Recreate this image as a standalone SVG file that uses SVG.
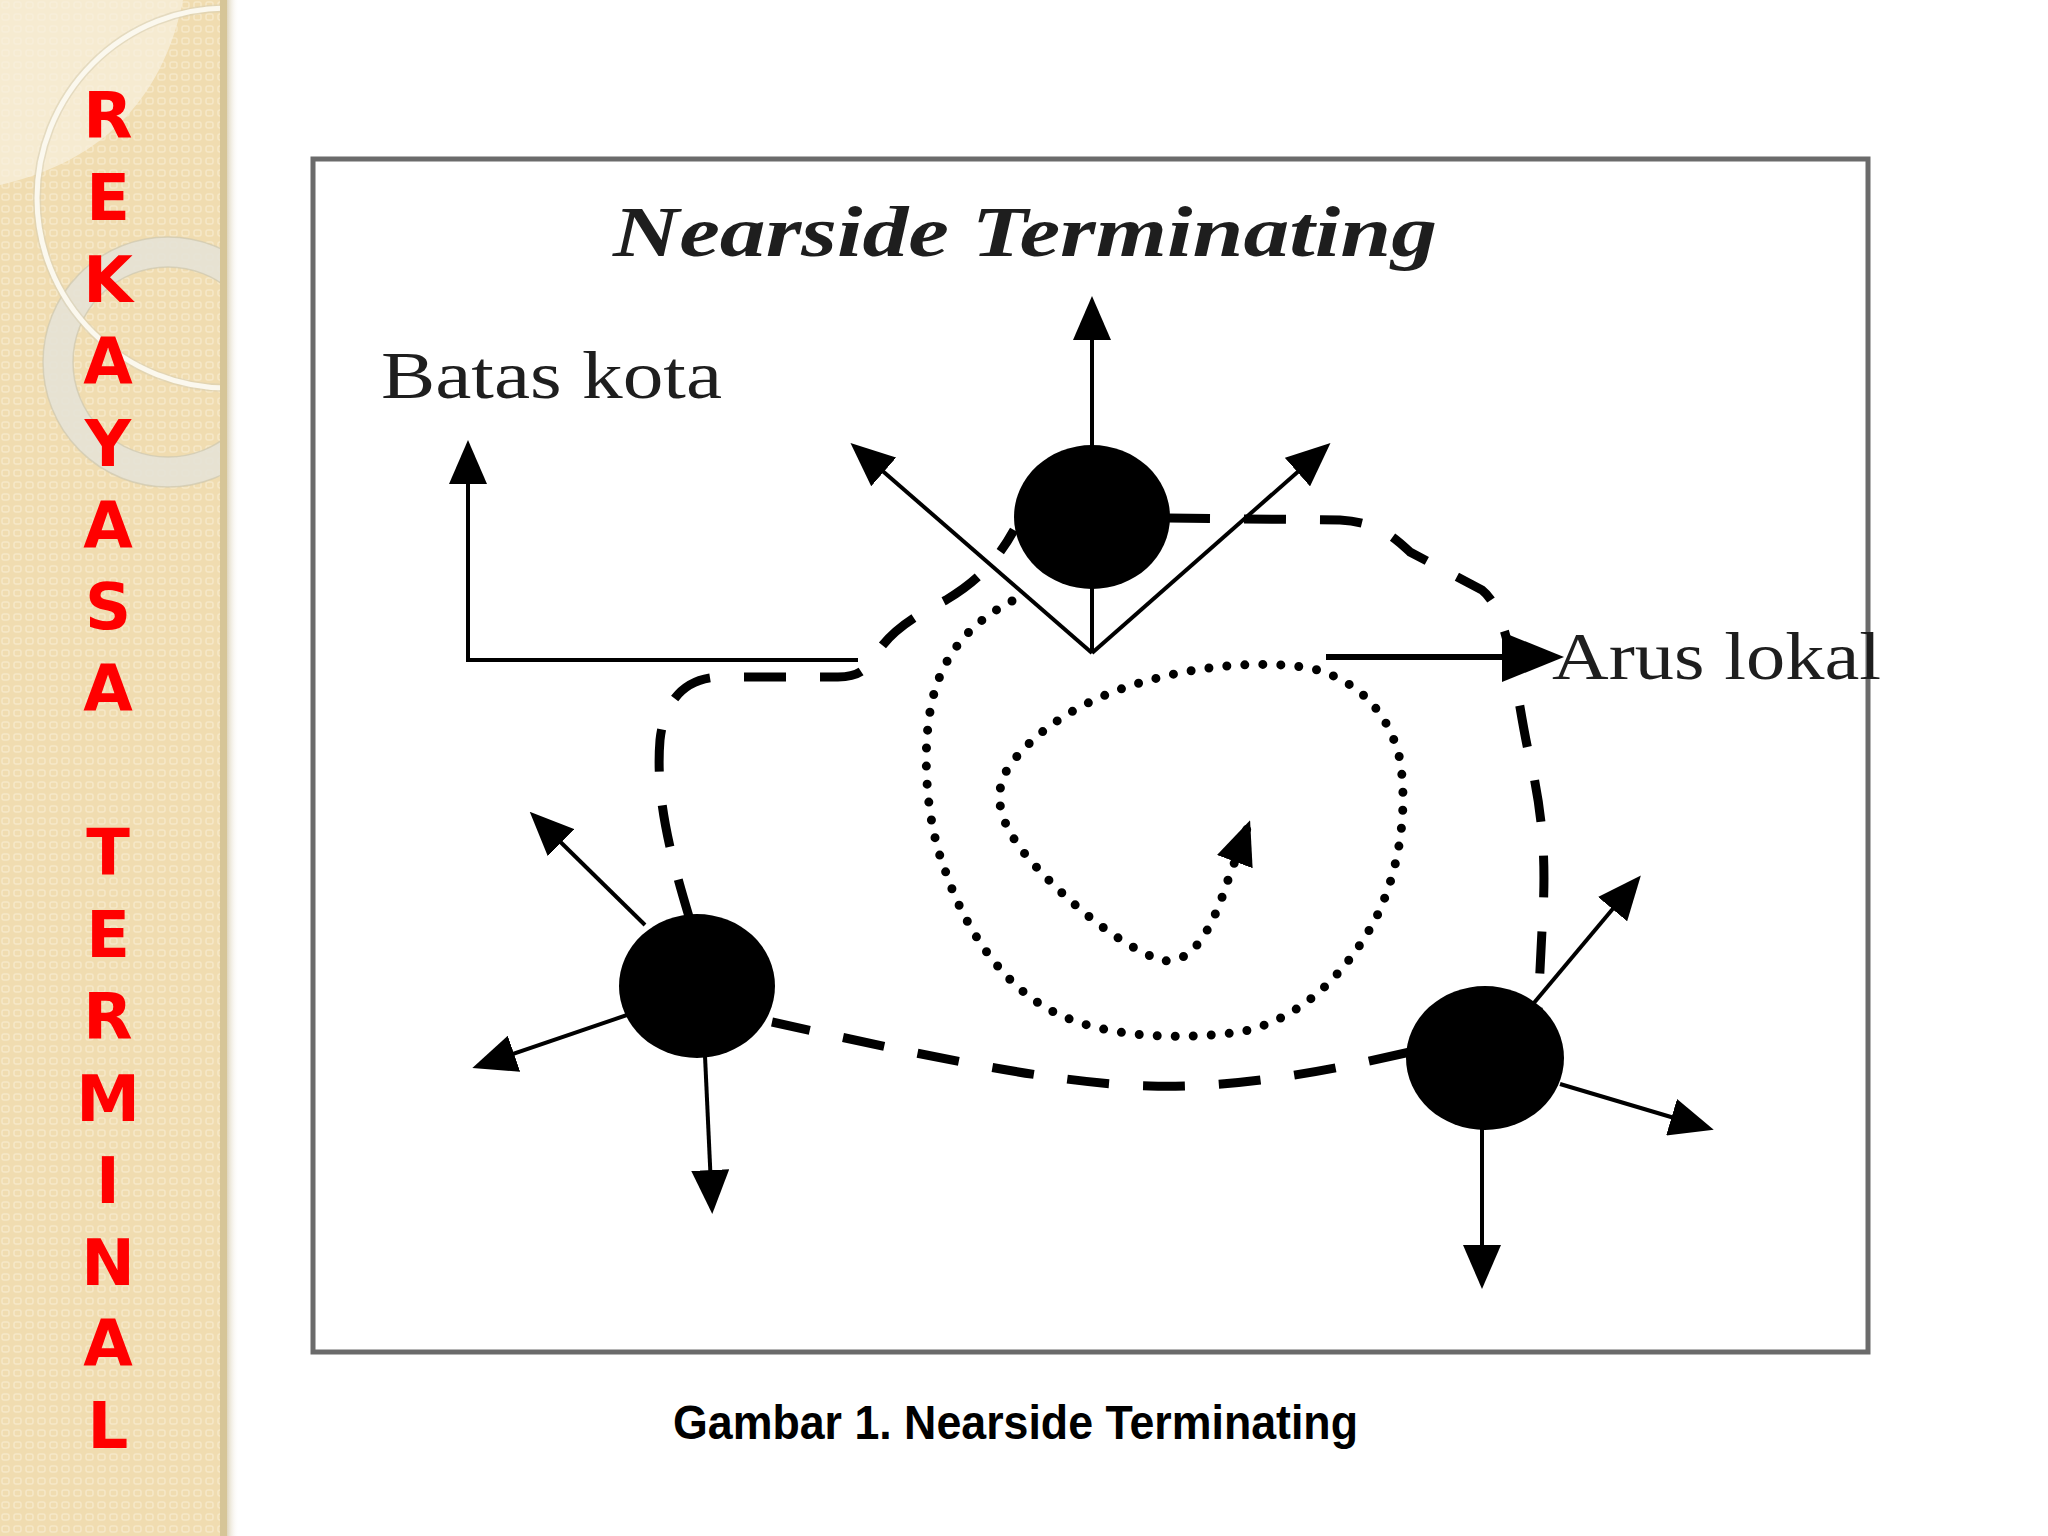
<svg xmlns="http://www.w3.org/2000/svg" width="2048" height="1536" viewBox="0 0 2048 1536">
<defs>
  <pattern id="weave" x="0" y="0" width="12" height="12" patternUnits="userSpaceOnUse">
    <rect width="12" height="12" fill="#f0dcb0"/>
    <rect x="2" y="2" width="7" height="6" rx="2" fill="none" stroke="#f6e8c8" stroke-width="1.5"/>
  </pattern>
  <linearGradient id="edgeShadow" x1="0" y1="0" x2="1" y2="0">
    <stop offset="0" stop-color="#c9b98f" stop-opacity="0.6"/>
    <stop offset="1" stop-color="#ffffff" stop-opacity="0"/>
  </linearGradient>
  <clipPath id="sideClip"><rect x="0" y="0" width="226" height="1536"/></clipPath>
  <marker id="ah" viewBox="0 0 44 38" refX="38" refY="19" markerWidth="44" markerHeight="38" markerUnits="userSpaceOnUse" orient="auto">
    <path d="M0,0 L44,19 L0,38 Z" fill="#000"/>
  </marker>
  <marker id="ahL" viewBox="0 0 62 50" refX="54" refY="25" markerWidth="62" markerHeight="50" markerUnits="userSpaceOnUse" orient="auto">
    <path d="M0,0 L62,25 L0,50 Z" fill="#000"/>
  </marker>
  <style>
    .side { font-family: "DejaVu Sans", "Liberation Sans", sans-serif; font-weight: bold; font-size: 64px; fill: #ff0000; text-anchor: middle; }
    .arrow { fill: none; stroke: #000; stroke-width: 4; marker-end: url(#ah); }
    .dash { fill: none; stroke: #000; stroke-width: 9; stroke-dasharray: 42 34; }
    .dot { fill: none; stroke: #000; stroke-width: 9; stroke-linecap: round; stroke-dasharray: 0 18; }
    .node { fill: #000; }
    .serif { font-family: "Liberation Serif", "Times New Roman", serif; fill: #1e1e1e; }
  </style>
</defs>

<!-- background -->
<rect x="0" y="0" width="2048" height="1536" fill="#ffffff"/>

<!-- sidebar -->
<g id="sidebar">
  <rect x="0" y="0" width="227" height="1536" fill="url(#weave)"/>
  <g clip-path="url(#sideClip)">
    <path d="M0,0 L183,0 C165,90 110,160 0,185 Z" fill="#f8f1e0" opacity="0.7"/>
    <circle cx="168" cy="362" r="110" fill="none" stroke="#e6e2d6" stroke-width="30" opacity="0.9"/>
    <circle cx="168" cy="362" r="125" fill="none" stroke="#cfc7ae" stroke-width="1.5" opacity="0.7"/>
    <circle cx="168" cy="362" r="95" fill="none" stroke="#cfc7ae" stroke-width="1.5" opacity="0.7"/>
    <circle cx="227" cy="198" r="190" fill="none" stroke="#d9cfb3" stroke-width="8" opacity="0.6"/>
    <circle cx="227" cy="198" r="190" fill="none" stroke="#fbf8ee" stroke-width="5"/>
  </g>
  <rect x="220" y="0" width="7" height="1536" fill="#d6c597"/>
  <rect x="227" y="0" width="12" height="1536" fill="url(#edgeShadow)"/>
  <text class="side" x="108" y="138">R</text>
  <text class="side" x="108" y="220">E</text>
  <text class="side" x="108" y="302">K</text>
  <text class="side" x="108" y="384">A</text>
  <text class="side" x="108" y="466">Y</text>
  <text class="side" x="108" y="548">A</text>
  <text class="side" x="108" y="629">S</text>
  <text class="side" x="108" y="711">A</text>
  <text class="side" x="108" y="875">T</text>
  <text class="side" x="108" y="957">E</text>
  <text class="side" x="108" y="1039">R</text>
  <text class="side" x="108" y="1121">M</text>
  <text class="side" x="108" y="1203">I</text>
  <text class="side" x="108" y="1285">N</text>
  <text class="side" x="108" y="1366">A</text>
  <text class="side" x="108" y="1448">L</text>
</g>

<!-- figure frame -->
<rect id="frame" x="313" y="159" width="1555" height="1193" fill="#ffffff" stroke="#6b6b6b" stroke-width="5"/>

<!-- title and labels -->
<text id="title" class="serif" x="613" y="256" font-size="72" font-style="italic" font-weight="bold" textLength="824" lengthAdjust="spacingAndGlyphs">Nearside Terminating</text>
<text id="label-batas" class="serif" x="381" y="398" font-size="68" textLength="341" lengthAdjust="spacingAndGlyphs">Batas kota</text>
<text id="label-arus" class="serif" x="1552" y="679" font-size="68" textLength="329" lengthAdjust="spacingAndGlyphs">Arus lokal</text>

<!-- connectors -->
<g id="connectors">
  <!-- dashed loop -->
  <path class="dash" d="M1168,518 L1340,520 C1378,522 1395,538 1410,552 L1482,590 C1510,612 1515,690 1528,750 C1545,820 1546,870 1542,930 L1538,1010"/>
  <path class="dash" d="M1410,1052 C1310,1075 1230,1088 1150,1086 C1050,1084 900,1050 772,1022"/>
  <path class="dash" d="M690,920 C672,860 655,800 660,740 C665,695 690,677 722,677 L838,677 C866,677 868,664 882,646 C896,628 918,614 946,600 C966,588 992,570 1014,530"/>

  <!-- dotted spiral -->
  <path class="dot" marker-end="url(#ah)" d="M1012,601 C985,615 950,640 935,690 C920,740 925,820 945,870 C965,930 1005,990 1060,1015 C1110,1038 1180,1040 1240,1032 C1300,1020 1345,975 1375,920 C1400,870 1408,810 1400,760 C1390,715 1360,680 1310,668 C1260,660 1200,666 1150,680 C1090,696 1040,725 1010,765 C990,795 1000,825 1030,860 C1070,905 1120,945 1160,960 C1195,968 1215,920 1228,880 L1248,826"/>

  <!-- top node arrows -->
  <path class="arrow" d="M1092,653 L1092,302"/>
  <path class="arrow" d="M1092,653 L855,447"/>
  <path class="arrow" d="M1092,653 L1326,447"/>

  <!-- batas kota -->
  <path class="arrow" d="M858,660 L468,660 L468,446"/>

  <!-- arus lokal -->
  <path fill="none" stroke="#000" stroke-width="6" marker-end="url(#ahL)" d="M1326,657 L1556,657"/>

  <!-- left node arrows -->
  <path class="arrow" d="M645,925 L534,816"/>
  <path class="arrow" d="M630,1014 L478,1066"/>
  <path class="arrow" d="M705,1056 L712,1208"/>

  <!-- right node arrows -->
  <path class="arrow" d="M1528,1010 L1637,880"/>
  <path class="arrow" d="M1560,1084 L1708,1128"/>
  <path class="arrow" d="M1482,1128 L1482,1283"/>
</g>

<!-- nodes -->
<g id="node-top"><ellipse class="node" cx="1092" cy="517" rx="78" ry="72"/></g>
<g id="node-left"><ellipse class="node" cx="697" cy="986" rx="78" ry="72"/></g>
<g id="node-right"><ellipse class="node" cx="1485" cy="1058" rx="79" ry="72"/></g>

<!-- caption -->
<text id="caption" x="673" y="1439" font-family="Liberation Sans, Arial, sans-serif" font-weight="bold" font-size="49" fill="#000" textLength="685" lengthAdjust="spacingAndGlyphs">Gambar 1. Nearside Terminating</text>
</svg>
